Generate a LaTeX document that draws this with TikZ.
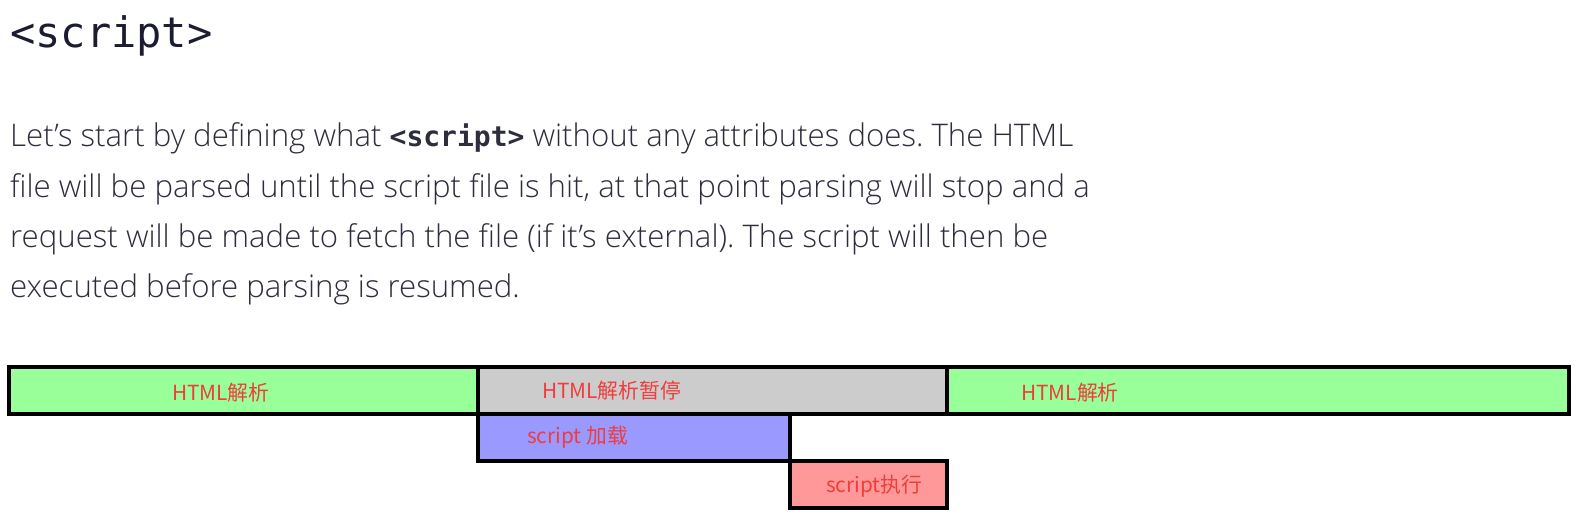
\documentclass[tikz,border=0pt]{standalone}
\usepackage{fontspec}
\setmainfont{Open Sans}[UprightFont={* Light}]
\newfontfamily\codefont{DejaVu Sans Mono}
\newfontfamily\cjk{Noto Sans CJK SC}
\definecolor{titlecol}{RGB}{27,27,50}
\definecolor{bodycol}{RGB}{45,45,62}
\definecolor{parsegreen}{RGB}{153,255,153}
\definecolor{pausegray}{RGB}{204,204,204}
\definecolor{loadblue}{RGB}{153,153,255}
\definecolor{execred}{RGB}{255,153,153}
\definecolor{labelred}{RGB}{240,60,60}
\tikzset{
  bar/.style={draw=black, line width=3.2pt, rectangle, inner sep=0pt, outer sep=0pt, anchor=north west},
  barlabel/.style={inner sep=0pt, anchor=base west, text=labelred, font=\cjk\fontsize{20.8}{21}\selectfont},
  bodytext/.style={inner sep=0pt, anchor=base west, text=bodycol, font=\fontsize{31.2}{31.2}\selectfont},
}
\frenchspacing
\begin{document}
\begin{tikzpicture}[x=1pt,y=-1pt]
\useasboundingbox (0,0) rectangle (1586,523);
% title
\node[inner sep=0pt, anchor=base west, text=titlecol, font=\codefont\fontsize{42}{42}\selectfont] (title) at (10,47) {<script>};
% paragraph
\node[bodytext] (l1) at (10,146) {Let’s start by defining what {\codefont\bfseries\fontsize{28}{28}\selectfont <script>} without any attributes does. The HTML};
\node[bodytext] (l2) at (10,197) {file will be parsed until the script file is hit, at that point parsing will stop and a};
\node[bodytext] (l3) at (10,247) {request will be made to fetch the file (if it’s external). The script will then be};
\node[bodytext] (l4) at (10,297) {executed before parsing is resumed.};
% bars
\node[bar, fill=parsegreen, minimum width=469pt, minimum height=47pt] (parse1) at (9,367) {};
\node[bar, fill=pausegray, minimum width=469pt, minimum height=47pt] (pause) at (478,367) {};
\node[bar, fill=parsegreen, minimum width=622pt, minimum height=47pt] (parse2) at (947,367) {};
\node[bar, fill=loadblue, minimum width=312pt, minimum height=47pt] (load) at (478,414) {};
\node[bar, fill=execred, minimum width=157pt, minimum height=47pt] (exec) at (790,461) {};
% labels
\node[barlabel] (t1) at (172,400) {HTML解析};
\node[barlabel] (t2) at (542,398) {HTML解析暂停};
\node[barlabel] (t3) at (1021,400) {HTML解析};
\node[barlabel] (t4) at (527,443) {script 加载};
\node[barlabel] (t5) at (826,492) {script执行};
\end{tikzpicture}
\end{document}
